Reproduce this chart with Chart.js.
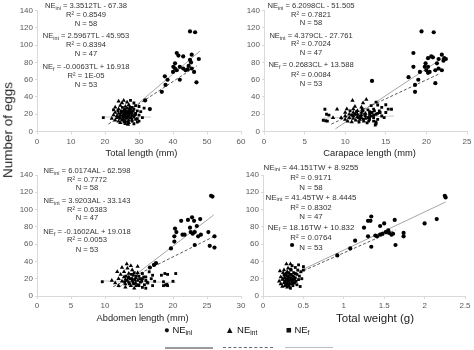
<!DOCTYPE html>
<html><head><meta charset="utf-8">
<script src="https://cdn.jsdelivr.net/npm/chart.js@4.4.1/dist/chart.umd.min.js"></script>
<style>
html,body{margin:0;padding:0;background:#fff;}
body{width:474px;height:350px;position:relative;overflow:hidden;font-family:"Liberation Sans",Arial,sans-serif;}
.t{position:absolute;white-space:nowrap;transform:translate(-50%,-50%);line-height:1;color:#333;}
.t sub{font-size:70%;vertical-align:-0.25em;line-height:0;}
.lg{position:absolute;white-space:nowrap;line-height:1;color:#111;font-size:9.5px;transform:translateY(-50%);}
.lg sub{font-size:70%;vertical-align:-0.25em;line-height:0;}
.ln{position:absolute;height:0;}
</style></head>
<body>
<script>
// ---------- data ----------
const yTicks=[0,20,40,60,80,100,120,140];
const tlTicks=[0,10,20,30,40,50,60];
const clTicks=[0,5,10,15,20,25];
const alTicks=[0,5,10,15,20,25,30];
const twTicks=[0,0.5,1,1.5,2,2.5];
const seriesSubs=['ini','int','f'];
const nCounts=[58,47,53];

const tlSlope=[3.3512,2.5967,-0.0063], tlIcpt=[-67.38,-45.953,16.918], tlR2=['0.8549','0.8394','1E-05'], tlSpan=[[24,48],[21,47],[19.5,33.5]];
const clSlope=[6.2098,4.379,0.2683], clIcpt=[-51.505,-27.761,13.588], clR2=['0.7821','0.7024','0.0084'], clSpan=[[8.8,22.2],[8.3,21.5],[7.3,16]];
const alSlope=[6.0174,3.9203,-0.1602], alIcpt=[-62.598,-33.143,19.018], alR2=['0.7772','0.6383','0.0053'], alSpan=[[12,26],[11.2,26],[9.6,20.4]];
const twSlope=[44.151,41.45,18.16], twIcpt=[8.9255,8.4445,10.832], twR2=['0.9171','0.8302','0.0764'], twSpan=[[0.2,2.26],[0.22,1.64],[0.2,0.5]];

const tlIni=[[45,116],[46.5,115],[41.1,91],[41.6,88],[43,87],[45.5,89],[47.6,84],[45,83],[45.3,80],[40.6,79],[40.1,75],[40.6,73],[41.1,71],[43,73],[43.7,71],[44.3,72],[45.5,73],[46.2,69],[42,75],[44.6,76],[42,60],[46.9,57],[37.6,64],[38.4,60],[37.8,54],[36.7,46],[40,69],[31.8,36],[33.2,26]];
const tlInt=[[22,15],[22.5,19],[23,13],[23,22],[23,28],[23.5,16],[23.5,18],[24,12],[24,21],[24,26],[24,35],[24.5,10],[24.5,15],[24.5,19],[24.5,30],[25,13],[25,22],[25,33],[25.5,14],[25.5,17],[25.5,20],[25.5,24],[25.5,36],[26,9],[26,12],[26,18],[26,21],[26,29],[26.5,15],[26.5,27],[26.5,34],[26.8,8],[27,10],[27,13],[27,19],[27,23],[27,31]];
const tlF=[[19.5,16],[22.5,25],[27.5,16],[27.5,25],[27.5,36],[28,12],[28,18],[28,22],[28,28],[28.5,9],[28.5,17],[28.5,26],[28.5,33],[29,14],[29,20],[29,21],[29,30],[29.5,11],[29.5,15],[29.5,24],[30,12],[30,19],[30,29],[30.5,23],[31,16],[31.5,27],[26.3,24],[25.8,26],[26.8,20],[27.3,28],[24.8,24],[25.2,18],[26.2,16],[27.8,20],[26.7,11],
  [24.2,17],[25.3,16],[25.8,22],[26.4,20],[26.9,17],[27.4,22],[27.9,14],[28.3,24],[24.7,22],[25.6,11],[26.6,23],[27.2,26],[28.7,19],[23.8,24],[25.1,28]];

const clIni=[[19.4,116],[20.9,115],[18.4,91],[20.2,85],[20.6,87],[20.8,86],[21.9,89],[22.2,85],[22.4,84],[22.1,82],[21.5,84],[21.3,79],[19.9,79],[20.2,75],[20,71],[20.4,69],[20.2,68],[21.1,71],[21.9,71],[18.4,75],[17.8,63],[19.2,69],[19,60],[18.6,54],[18.6,46],[21.1,56],[13.3,58.6],[19.8,75],[21.5,73]];
const clInt=[[8.5,16],[9,25.8],[9.5,16],[10,14],[10,18],[10,22],[10.2,26],[10.3,12],[10.5,16],[10.5,20],[10.8,11],[10.9,36],[11,15],[11,18],[11,22],[11,26],[11.2,29],[11.3,13],[11.5,17],[11.5,20],[11.5,24],[11.8,14],[12,16],[12,19],[12,22],[12,28],[12.2,33],[12.3,12],[12.5,15],[12.5,18],[12.5,21],[12.6,37]];
const clF=[[7.3,13],[7.6,12.5],[7.8,12],[7.5,25.8],[7.7,20],[8,19],[12.8,25],[13,14],[13,17],[13,20],[13,23],[13.2,30],[13.5,12],[13.5,16],[13.5,19],[13.5,26],[13.7,7.5],[13.8,11],[13.8,9],[13.8,34],[14,14],[14,21],[14,30.7],[14.2,24],[14.5,18],[14.5,28],[14.8,16],[15,22],[15,31],[15.3,26],[15.7,25.8],[12.2,14],[11.7,11],[12.7,10],[10.6,24],
  [11.2,20],[11.8,18],[12.2,24],[12.8,16],[13.2,18],[13.3,22],[12.4,20],[11.6,16],[12.9,12],[13.8,20],[14.3,22],[11.4,23],[12.1,26],[13.6,24],[10.8,19]];

const alIni=[[25.6,116],[25.8,115],[21.2,87],[22.2,88],[22.8,91],[23.1,87],[24,89],[22.5,79],[23.5,81],[20.3,78],[20.5,74],[21.4,71],[21.7,71],[22.6,74],[22.9,72],[23.2,74],[25.2,74],[23.7,69],[24.1,71],[26.1,69],[20.2,69],[20.2,63],[23.2,59],[25.4,58],[26.1,56],[19.7,55],[17.5,38],[17.2,36],[16.6,33]];
const alInt=[[11,18],[11.5,15],[12,20],[12,12],[12.3,25],[12.5,17],[12.5,33],[12.8,22],[12.8,28],[11.8,28],[13,10],[13,14],[13,19],[13.2,37],[13.3,32],[13.5,16],[13.5,22],[13.5,26],[13.8,12],[13.8,35],[14,18],[14,20],[14,30],[14.2,24],[14.3,9],[14.5,15],[14.5,21],[14.8,18],[14.8,27],[14.8,34]];
const alF=[[9.6,16.5],[15,12],[15,23],[15.2,16],[15.5,20],[15.5,26],[15.5,10],[15.8,13],[16,18],[16,22],[16,9],[16.3,15],[16.5,28],[16.8,20],[17,12],[17,24],[17.3,17],[18.3,24],[18.8,26],[19.2,25],[20,17],[18.6,16.5],[19.1,13.5],[18.9,12.7],[18.6,12],[19.2,12],[20.4,26],[14.2,14],[13.7,20],[14.6,12],
  [13.2,18],[13.6,14],[14.1,16],[14.4,19],[14.6,23],[15.1,20],[15.4,17],[13.9,25],[12.9,16],[14.9,13],[15.7,22],[13.4,21],[16.2,16],[14.3,27],[13.1,23]];

const twIni=[[2.25,116],[2.26,114],[2.15,89],[2.0,84],[1.34,92],[1.30,87],[1.33,87],[1.50,84],[1.63,88],[1.25,79],[1.45,81],[1.74,73],[1.74,69],[1.45,71],[1.48,72],[1.52,74],[1.56,73],[1.59,71],[1.61,72],[1.39,70],[1.41,69],[1.30,69],[1.14,64],[1.64,59],[1.34,57],[1.08,55],[0.92,47],[0.36,59],[1.55,76]];
const twInt=[[0.2,17],[0.21,29],[0.22,14],[0.22,22],[0.24,11],[0.24,19],[0.25,27],[0.26,15],[0.26,30],[0.27,12],[0.27,21],[0.28,18],[0.28,24],[0.29,37],[0.3,10],[0.3,14],[0.3,20],[0.3,28],[0.31,16],[0.31,32],[0.32,12],[0.32,22],[0.33,18],[0.33,25],[0.34,37]];
const twF=[[0.34,9],[0.35,14],[0.35,20],[0.35,30],[0.36,16],[0.36,35],[0.37,23],[0.37,12],[0.38,19],[0.38,27],[0.39,15],[0.4,21],[0.4,33],[0.41,17],[0.42,25],[0.42,13],[0.43,30],[0.44,19],[0.44,36],[0.45,23],[0.46,11],[0.47,28],[0.48,20],[0.5,34],[0.5,30],[0.28,15],[0.32,17],[0.25,20],[0.29,26],
  [0.27,17],[0.29,13],[0.3,23],[0.31,19],[0.33,14],[0.34,21],[0.35,25],[0.36,19],[0.37,15],[0.38,22],[0.39,18],[0.32,27],[0.34,31],[0.4,26],[0.26,24]];

// ---------- layout ----------
const FF='"Liberation Sans", Arial, sans-serif';
const panels=[
 {left:0,top:0,w:250,h:165,L:37,R:241,T:10.7,B:131.5,xTicks:tlTicks,v:'TL',title:'Total length (mm)',tx:141.5,ty:154,ts:9.3,
  d:[tlIni,tlInt,tlF],slope:tlSlope,icpt:tlIcpt,r2:tlR2,span:tlSpan,ax:86,ay:[6,15,24,36,45,54,67,76,85],as:7.6},
 {left:242,top:0,w:232,h:165,L:22,R:225,T:10.7,B:131.5,xTicks:clTicks,v:'CL',title:'Carapace length (mm)',tx:369.5,ty:154,ts:9.3,
  d:[clIni,clInt,clF],slope:clSlope,icpt:clIcpt,r2:clR2,span:clSpan,ax:311,ay:[6,15,23,36,44,53,65,75,84],as:7.6},
 {left:0,top:165,w:250,h:165,L:37,R:241,T:10,B:131,xTicks:alTicks,v:'AL',title:'Abdomen length (mm)',tx:142.5,ty:319,ts:9.3,
  d:[alIni,alInt,alF],slope:alSlope,icpt:alIcpt,r2:alR2,span:alSpan,ax:87,ay:[171,180,188,201,210,218,232,240,250],as:7.6},
 {left:242,top:165,w:232,h:165,L:21,R:223,T:10,B:131,xTicks:twTicks,v:'TW',title:'Total weight (g)',tx:375,ty:319,ts:11.5,
  d:[twIni,twInt,twF],slope:twSlope,icpt:twIcpt,r2:twR2,span:twSpan,ax:311,ay:[168,178,188,198,208,217,228,238,248],as:7.9}
];

function addText(cls,html,x,y,size,extra){
  const el=document.createElement('div');
  el.className=cls; el.innerHTML=html;
  el.style.left=x+'px'; el.style.top=y+'px'; el.style.fontSize=size+'px';
  if(extra) el.style.cssText+=extra;
  document.body.appendChild(el); return el;
}

const pointStyles=[['circle',2.1],['triangle',2.5],['rect',2.0]];
const lineStyles=[{c:'#a6a6a6',dash:[]},{c:'#595959',dash:[3,2]},{c:'#c8c8c8',dash:[]}];

panels.forEach(p=>{
  const c=document.createElement('canvas');
  c.width=p.w; c.height=p.h;
  c.style.cssText=`position:absolute;left:${p.left}px;top:${p.top}px;width:${p.w}px;height:${p.h}px;`;
  document.body.appendChild(c);
  const ds=[];
  p.d.forEach((arr,i)=>{
    ds.push({data:arr.map(([x,y])=>({x,y})),pointStyle:pointStyles[i][0],pointRadius:pointStyles[i][1],
      backgroundColor:'#000',borderColor:'#000',borderWidth:0,showLine:false});
  });
  p.span.forEach((s,i)=>{
    ds.push({data:s.map(x=>({x,y:p.slope[i]*x+p.icpt[i]})),showLine:true,pointRadius:0,
      borderColor:lineStyles[i].c,borderWidth:1,borderDash:lineStyles[i].dash,fill:false});
  });
  const tickFont={family:FF,size:8};
  new Chart(c,{type:'scatter',data:{datasets:ds},options:{
    responsive:false,animation:false,events:[],
    layout:{padding:{left:0,top:p.T,right:p.w-p.R,bottom:0}},
    plugins:{legend:{display:false},tooltip:{enabled:false}},
    scales:{
      x:{type:'linear',min:p.xTicks[0],max:p.xTicks[p.xTicks.length-1],
        afterBuildTicks:s=>{s.ticks=p.xTicks.map(v=>({value:v}));},
        afterFit:s=>{s.height=p.h-p.B;},
        ticks:{font:tickFont,color:'#595959',padding:2,maxRotation:0,autoSkip:false,callback:v=>String(v)},
        grid:{drawOnChartArea:false,drawTicks:true,tickLength:3,color:'#d9d9d9'},
        border:{display:true,color:'#d9d9d9'}},
      y:{type:'linear',min:yTicks[0],max:yTicks[yTicks.length-1],
        afterBuildTicks:s=>{s.ticks=yTicks.map(v=>({value:v}));},
        afterFit:s=>{s.width=p.L;},
        ticks:{font:tickFont,color:'#595959',padding:2,autoSkip:false,callback:v=>String(v)},
        grid:{drawOnChartArea:false,drawTicks:true,tickLength:2,color:'#d9d9d9'},
        border:{display:true,color:'#d9d9d9'}}
    }}});
  // axis title
  addText('t',p.title,p.tx,p.ty,p.ts,'color:#222;');
  // annotations
  seriesSubs.forEach((sub,i)=>{
    const sl=p.slope[i], ic=p.icpt[i];
    const eq=`NE<sub>${sub}</sub> = ${sl}${p.v} ${ic<0?'-':'+'} ${Math.abs(ic)}`;
    addText('t',eq,p.ax,p.ay[i*3],p.as);
    addText('t',`R² = ${p.r2[i]}`,p.ax,p.ay[i*3+1],p.as);
    addText('t',`N = ${nCounts[i]}`,p.ax,p.ay[i*3+2],p.as);
  });
});

// shared y-axis title
addText('t','Number of eggs',8,130,13.5,'transform:translate(-50%,-50%) rotate(-90deg);color:#222;');

// legend
const legendMarks=['●','▲','■'];
const legendX=[164,225,286];
seriesSubs.forEach((sub,i)=>{
  addText('lg',`${legendMarks[i]} NE<sub>${sub}</sub>`,legendX[i],330,9.5);
});
const legendLines=[[165,213,'2px solid #9a9a9a'],[223,273,'1.5px dashed #6a6a6a'],[285,333,'1px solid #bdbdbd']];
legendLines.forEach(([a,b,st])=>{
  const el=document.createElement('div');
  el.className='ln';
  el.style.cssText=`left:${a}px;top:347px;width:${b-a}px;border-top:${st};`;
  document.body.appendChild(el);
});
</script>
</body></html>
